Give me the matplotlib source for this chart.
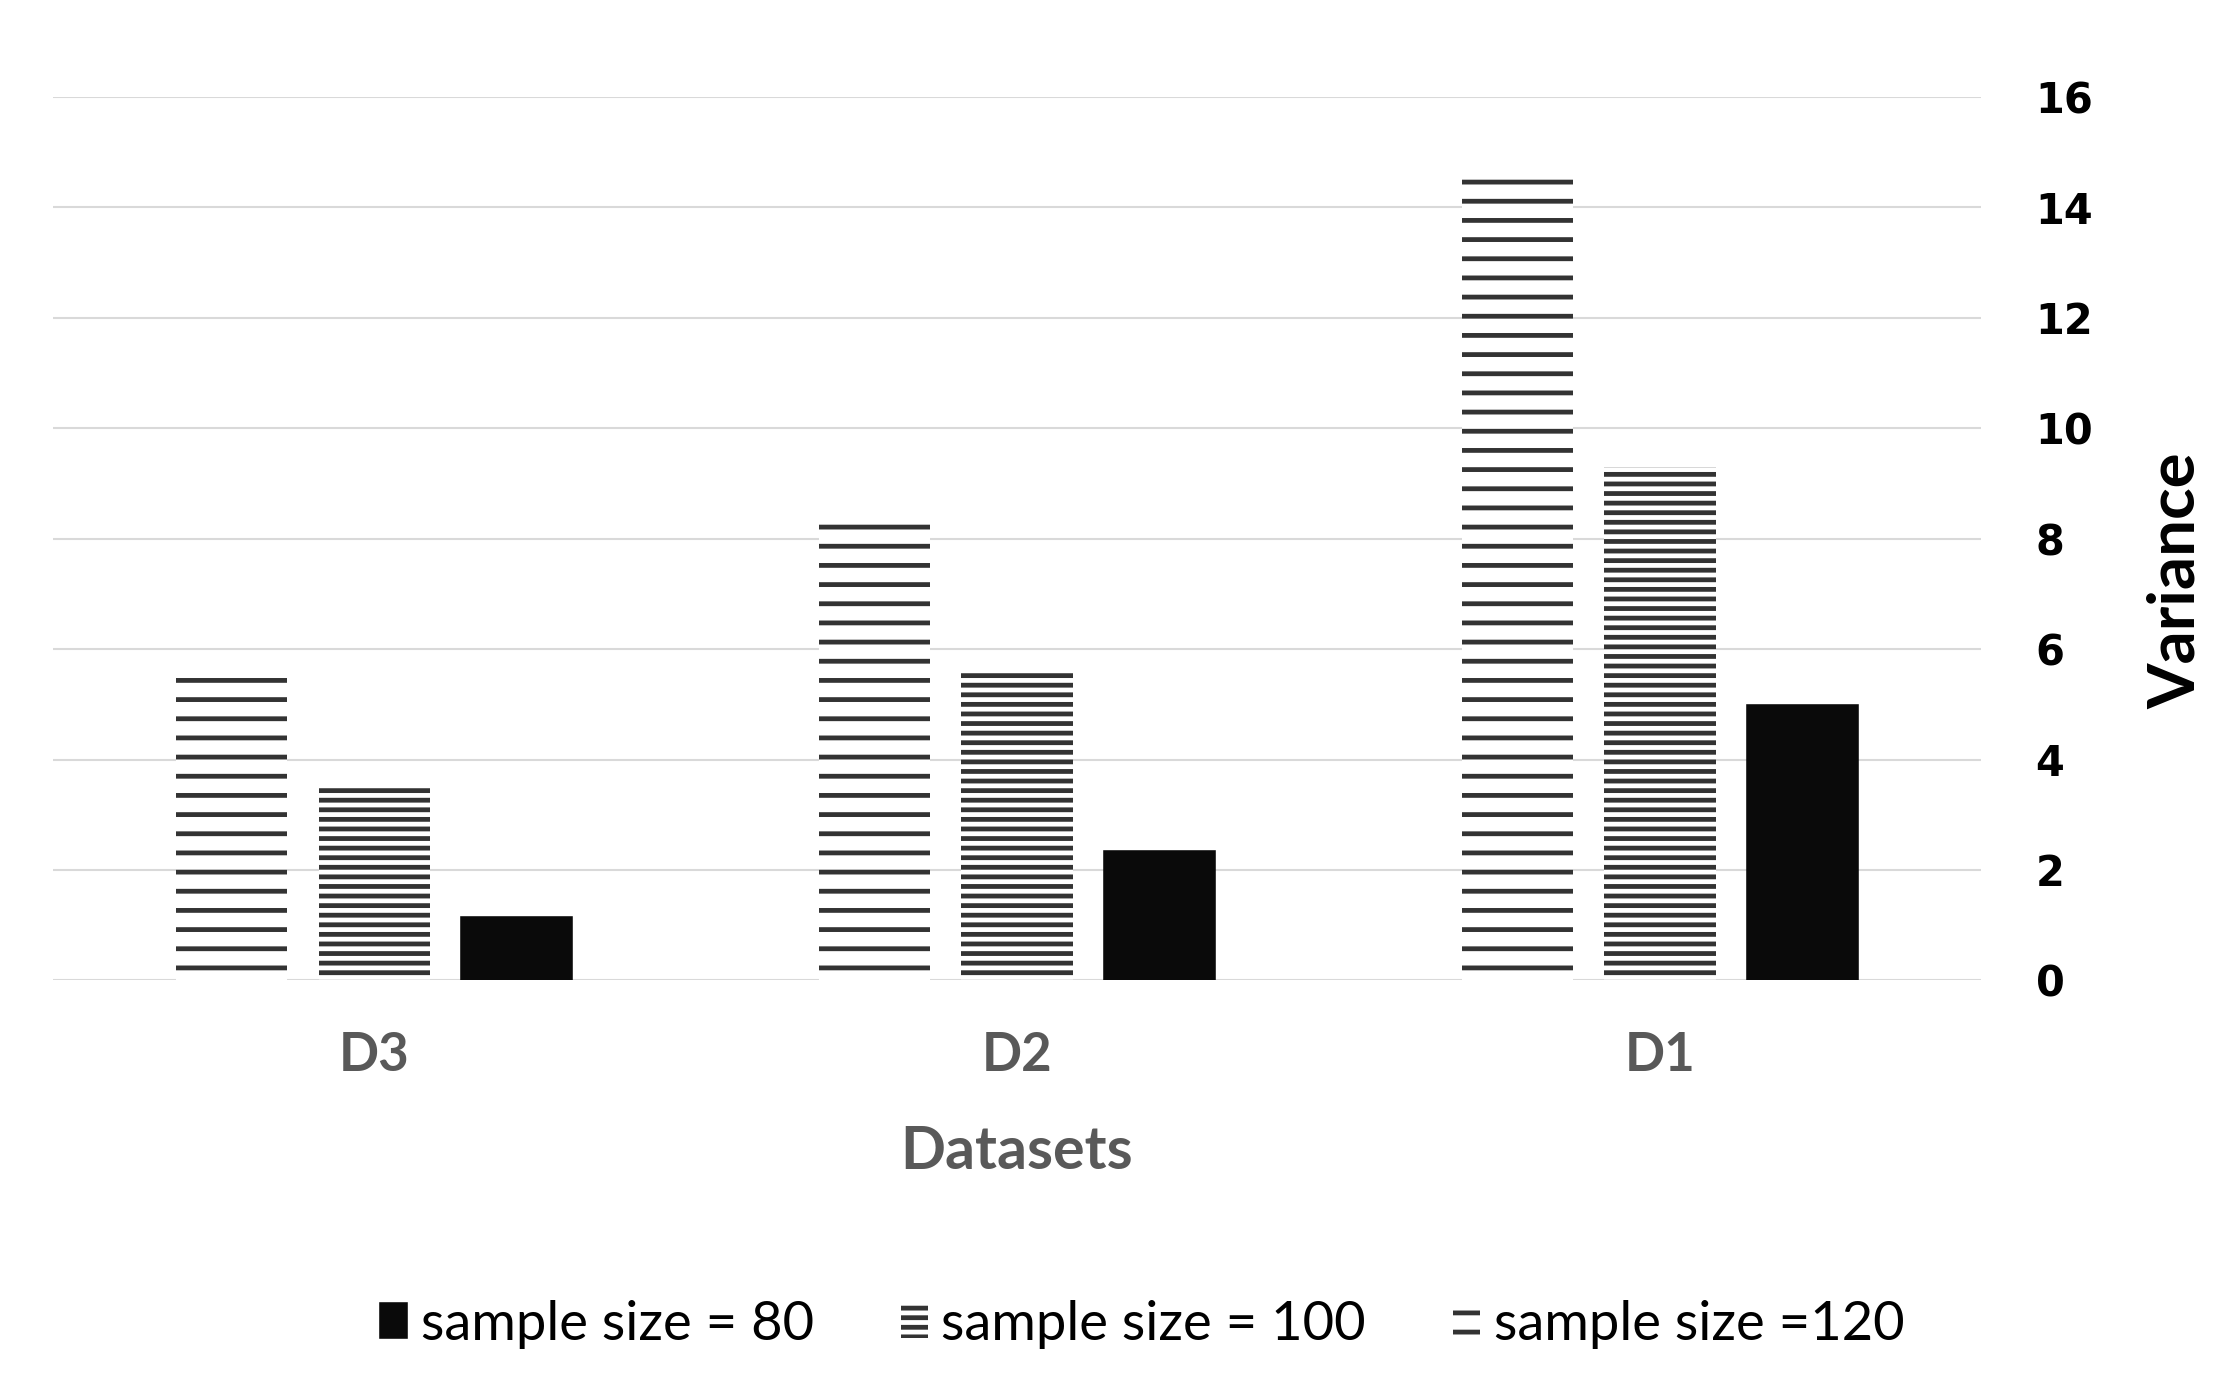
import matplotlib.pyplot as plt
import numpy as np

# data
datasets = ["D1", "D2", "D3"]
var_80 = [4.98, 2.35, 1.14]
var_100 = [9.29, 5.63, 3.54]
var_120 = [14.66, 8.41, 5.65]
yticks = [0, 2, 4, 6, 8, 10, 12, 14, 16]

DPI = 115
plt.rcParams['hatch.linewidth'] = 3.0

fig = plt.figure(figsize=(2235 / DPI, 1375 / DPI), dpi=DPI)
ax = fig.add_axes([0.0236, 0.287, 0.8629, 0.6425])

x = np.arange(len(datasets))
w = 0.173
step = 0.222

# categories are shown reversed (D3 .. D1), like the original excel chart
ax.bar(x - step, var_80, w, color='#0a0a0a', edgecolor='#0a0a0a', linewidth=1,
       label='sample size = 80', zorder=3)
ax.bar(x, var_100, w, color='white', edgecolor='#333333', linewidth=0,
       hatch='--', label='sample size = 100', zorder=3)
ax.bar(x + step, var_120, w, color='white', edgecolor='#333333', linewidth=0,
       hatch='-', label='sample size =120', zorder=3)

ax.set_xlim(-0.5, 2.5)
ax.invert_xaxis()
ax.set_ylim(0, 16)
ax.set_yticks(yticks)
ax.set_xticks(x)
ax.set_xticklabels(datasets)

ax.yaxis.tick_right()
ax.yaxis.set_label_position('right')
ax.grid(axis='y', color='#d9d9d9', linewidth=1.3, zorder=0)
for s in ax.spines.values():
    s.set_visible(False)
ax.tick_params(axis='both', length=0)
ax.tick_params(axis='y', pad=34, labelsize=26)
ax.tick_params(axis='x', pad=32, labelsize=33, labelcolor='#595959')
for t in ax.get_yticklabels():
    t.set_fontweight('bold')
    t.set_fontfamily('DejaVu Sans')
for t in ax.get_xticklabels():
    t.set_fontweight('bold')
    t.set_fontfamily('Lato')

ax.set_xlabel('Datasets', fontsize=37, fontweight='bold', color='#595959',
              family='Lato')
ax.xaxis.set_label_coords(0.5, -0.194)
ax.xaxis.label.set_va('center')
ax.set_ylabel('Variance', fontsize=41, fontweight='bold', color='black',
              family='Lato')
ax.yaxis.set_label_coords(1.101, 0.452)
ax.yaxis.label.set_va('center')

leg = fig.legend(loc='center', bbox_to_anchor=(0.511, 0.037), ncol=3,
                 frameon=False, prop={'family': 'Lato', 'size': 34},
                 handlelength=0.5, handleheight=0.6, handletextpad=0.25,
                 columnspacing=1.6)

fig.savefig('out.png', dpi=DPI)
